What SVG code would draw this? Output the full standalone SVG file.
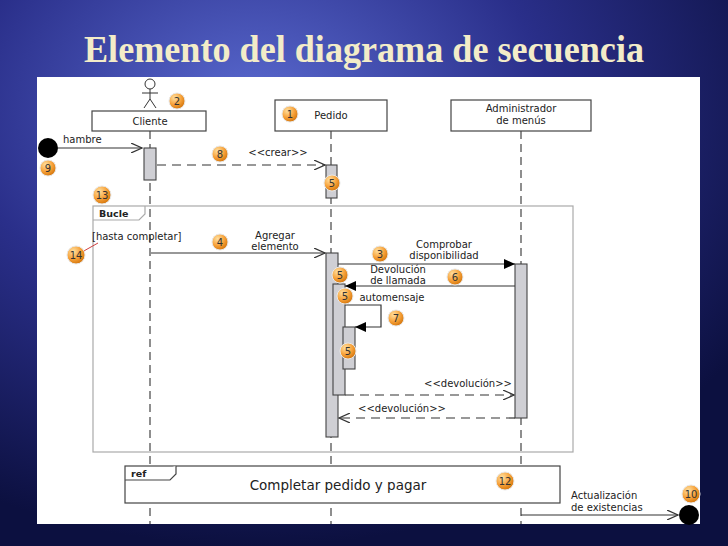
<svg xmlns="http://www.w3.org/2000/svg" width="728" height="546" viewBox="0 0 728 546">
<defs>
<radialGradient id="bg" cx="0.35" cy="0.2" r="0.8">
<stop offset="0" stop-color="#5a6ad0"/><stop offset="0.5" stop-color="#2a2f8a"/><stop offset="1" stop-color="#0c1040"/>
</radialGradient>
<radialGradient id="bd" cx="0.35" cy="0.3" r="0.7">
<stop offset="0" stop-color="#ffe0a0"/><stop offset="0.6" stop-color="#f7a23a"/><stop offset="1" stop-color="#d87a10"/>
</radialGradient>
<marker id="op" markerWidth="12" markerHeight="10" refX="11" refY="5" orient="auto" markerUnits="userSpaceOnUse"><path d="M0,0 L11,5 L0,10" fill="none" stroke="#333" stroke-width="1.2"/></marker>
<marker id="fl" markerWidth="12" markerHeight="10" refX="11" refY="5" orient="auto" markerUnits="userSpaceOnUse"><path d="M0,0 L11,5 L0,10 Z" fill="#000"/></marker>
</defs>
<style>
text{font-family:"DejaVu Sans","Liberation Sans",sans-serif;font-size:10px;fill:#222}
.box{fill:#fff;stroke:#444;stroke-width:1.2}
.life{stroke:#444;stroke-width:1.2;stroke-dasharray:8,5}
.act{fill:#cfcfd4;stroke:#444;stroke-width:1.1}
.msg{stroke:#333;stroke-width:1.2;fill:none}
.dash{stroke-dasharray:9,6}
.b circle{fill:url(#bd);stroke:#e8e8e8;stroke-width:1}
.b text{font-size:10px;text-anchor:middle;fill:#333}
.frame{fill:none;stroke:#aaa;stroke-width:1.2}
</style>
<rect width="728" height="546" fill="url(#bg)"/>
<text x="364" y="62" text-anchor="middle" textLength="560" lengthAdjust="spacingAndGlyphs" style="font-family:'Liberation Serif',serif;font-size:37px;font-weight:bold;fill:#f3ecc8">Elemento del diagrama de secuencia</text>
<rect x="37" y="77" width="663" height="447" fill="#fff"/>

<g id="lifelines">
<line class="life" x1="150" y1="131" x2="150" y2="524"/>
<line class="life" x1="331" y1="131" x2="331" y2="524"/>
<line class="life" x1="521" y1="131" x2="521" y2="524"/>
</g>
<g id="bucle">
<rect class="frame" x="93" y="206" width="480" height="246"/>
<path class="frame" d="M93,220 H139 L145,214 V206"/>
<text x="99" y="217" style="font-weight:bold;font-size:9.5px">Bucle</text>
<text x="92" y="240">[hasta completar]</text>
<line x1="82" y1="252" x2="98" y2="243" stroke="#d04040" stroke-width="1"/>
</g>
<g id="cliente">
<circle cx="150" cy="84" r="5" fill="#fff" stroke="#333"/>
<path d="M150,89 V99 M142,93 H158 M150,99 L144,108 M150,99 L156,108" stroke="#333" fill="none"/>
<rect class="box" x="92" y="111" width="114" height="20"/>
<text x="150" y="125" text-anchor="middle">Cliente</text>
</g>
<g id="pedido"><rect class="box" x="275" y="100" width="112" height="31"/><text x="331" y="119" text-anchor="middle">Pedido</text></g>
<g id="admin"><rect class="box" x="451" y="100" width="140" height="31"/><text x="521" y="112" text-anchor="middle">Administrador</text><text x="521" y="124" text-anchor="middle">de menús</text></g>
<g id="activations">
<rect class="act" x="144" y="148" width="12" height="32"/>
<rect class="act" x="326" y="165" width="11" height="33"/>
<rect class="act" x="326" y="253" width="12" height="184"/>
<rect class="act" x="515" y="264" width="12" height="154"/>
<rect class="act" x="333" y="284" width="12" height="111"/>
<rect class="act" x="343" y="327" width="12" height="42"/>
</g>
<g id="connectors">
<circle cx="48" cy="148" r="10" fill="#000"/>
<line class="msg" x1="58" y1="148" x2="142" y2="148" marker-end="url(#op)"/>
<text x="63" y="143">hambre</text>
<line class="msg dash" x1="157" y1="165" x2="325" y2="165" marker-end="url(#op)"/>
<text x="278" y="156" text-anchor="middle">&lt;&lt;crear&gt;&gt;</text>
<line class="msg" x1="151" y1="253" x2="325" y2="253" marker-end="url(#op)"/>
<text x="275" y="239" text-anchor="middle">Agregar</text><text x="275" y="250" text-anchor="middle">elemento</text>
<line class="msg" x1="338" y1="264" x2="515" y2="264" marker-end="url(#fl)"/>
<text x="444" y="248" text-anchor="middle">Comprobar</text><text x="444" y="259" text-anchor="middle">disponibilidad</text>
<line class="msg" x1="515" y1="286" x2="345" y2="286" marker-end="url(#fl)"/>
<text x="398" y="273" text-anchor="middle">Devolución</text><text x="398" y="284" text-anchor="middle">de llamada</text>
<path class="msg" d="M345,305 H381 V327 H355" marker-end="url(#fl)"/>
<text x="392" y="301" text-anchor="middle">automensaje</text>
<line class="msg dash" x1="345" y1="395" x2="514" y2="395" marker-end="url(#op)"/>
<text x="468" y="387" text-anchor="middle">&lt;&lt;devolución&gt;&gt;</text>
<line class="msg dash" x1="515" y1="418" x2="339" y2="418" marker-end="url(#op)"/>
<text x="402" y="412" text-anchor="middle">&lt;&lt;devolución&gt;&gt;</text>
<line class="msg" x1="521" y1="515" x2="678" y2="515" marker-end="url(#op)"/>
<circle cx="689" cy="515" r="10" fill="#000"/>
<text x="571" y="499">Actualización</text><text x="571" y="511">de existencias</text>
</g>
<g id="ref">
<rect class="box" x="125" y="466" width="435" height="37"/>
<path class="box" d="M125,480 H170 L176,474 V466" fill="none"/>
<text x="131" y="477" style="font-weight:bold;font-size:9.5px">ref</text>
<text x="338" y="490" text-anchor="middle" style="font-size:13.5px">Completar pedido y pagar</text>
</g>
<g id="badges" class="b">
<g><circle cx="177" cy="101" r="8"/><text x="177" y="105">2</text></g>
<g><circle cx="290" cy="114" r="8"/><text x="290" y="118">1</text></g>
<g><circle cx="220" cy="154" r="8"/><text x="220" y="158">8</text></g>
<g><circle cx="332" cy="183" r="8"/><text x="332" y="187">5</text></g>
<g><circle cx="48" cy="168" r="8"/><text x="48" y="172">9</text></g>
<g><circle cx="102" cy="195" r="9"/><text x="102" y="199">13</text></g>
<g><circle cx="220" cy="242" r="8"/><text x="220" y="246">4</text></g>
<g><circle cx="76" cy="255" r="9"/><text x="76" y="259">14</text></g>
<g><circle cx="380" cy="254" r="8"/><text x="380" y="258">3</text></g>
<g><circle cx="340" cy="275" r="8"/><text x="340" y="279">5</text></g>
<g><circle cx="455" cy="277" r="8"/><text x="455" y="281">6</text></g>
<g><circle cx="345" cy="296" r="8"/><text x="345" y="300">5</text></g>
<g><circle cx="396" cy="318" r="8"/><text x="396" y="322">7</text></g>
<g><circle cx="348" cy="351" r="8"/><text x="348" y="355">5</text></g>
<g><circle cx="505" cy="481" r="9"/><text x="505" y="485">12</text></g>
<g><circle cx="691" cy="494" r="9"/><text x="691" y="498">10</text></g>
</g>
</svg>
